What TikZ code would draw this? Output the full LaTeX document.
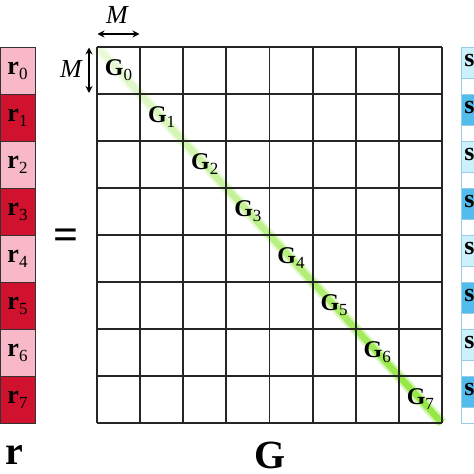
\documentclass[tikz,border=0pt]{standalone}
\usepackage{fontspec}
\setmainfont{Liberation Serif}
\usetikzlibrary{arrows.meta,calc}
\definecolor{pinkL}{RGB}{248,184,200}
\definecolor{redD}{RGB}{208,18,46}
\definecolor{blueL}{RGB}{204,240,252}
\definecolor{blueD}{RGB}{82,188,236}
\definecolor{sborder}{RGB}{150,205,228}
\definecolor{gline}{RGB}{150,232,70}
\newcommand\subtxt[1]{\raisebox{-5pt}{\fontsize{17}{17}\selectfont\mdseries #1}}
\begin{document}
\begin{tikzpicture}[x=1pt,y=-1pt,
  gridline/.style={line width=1.8pt,black!85},
  glabel/.style={font=\fontsize{24}{24}\selectfont\bfseries,inner sep=0pt},
  rcell/.style={draw=black!80,line width=1pt,minimum width=35pt,minimum height=47pt,inner sep=0pt,font=\fontsize{26}{26}\selectfont\bfseries},
  scell/.style={draw=sborder,line width=0.8pt,anchor=north west,minimum height=31pt,text width=24pt,inner xsep=3pt,inner ysep=0pt,align=left,font=\fontsize{26}{26}\selectfont\bfseries},
  dimarrow/.style={<->,>={Stealth[length=7pt,width=7pt]},line width=1.3pt},
  mlabel/.style={font=\fontsize{26}{26}\selectfont\itshape,inner sep=0pt},
  biglabel/.style={font=\fontsize{40}{40}\selectfont\bfseries,inner sep=0pt}]
\useasboundingbox (0,0) rectangle (474,474);
\clip (0,0) rectangle (474,474);
% r column
\foreach \i in {0,...,7}{
  \pgfmathsetmacro{\yc}{70.5+47*\i}
  \ifodd\i \def\cc{redD}\else\def\cc{pinkL}\fi
  \node[rcell,fill=\cc] (r\i) at (17.5,\yc) {r\subtxt{\i}};
}
% s column
\foreach \i in {0,...,7}{
  \pgfmathsetmacro{\yt}{47+47*\i}
  \ifodd\i \def\cc{blueD}\else\def\cc{blueL}\fi
  \draw[draw=sborder,line width=0.8pt,fill=white] (461,\yt+31) rectangle (490,\yt+47);
  \node[scell,fill=\cc] (s\i) at (461,\yt) {s\subtxt{\i}};
}
% green diagonal
\coordinate (gtl) at (97,47);
\coordinate (gbr) at (442,423);
\foreach \k in {0,...,23}{
  \pgfmathsetmacro{\pa}{\k/24}
  \pgfmathsetmacro{\pb}{(\k+1)/24}
  \pgfmathsetmacro{\mix}{min(100,22+85*\k/23)}
  \draw[line width=11pt,color=gline!\mix!white,opacity=0.4] ($(gtl)!\pa!(gbr)$) -- ($(gtl)!\pb!(gbr)$);
  \draw[line width=6.5pt,color=gline!\mix!white] ($(gtl)!\pa!(gbr)$) -- ($(gtl)!\pb!(gbr)$);
}
% grid
\foreach \j in {0,...,8}{
  \pgfmathsetmacro{\xx}{97+43.125*\j}
  \draw[gridline] (\xx,47) -- (\xx,423);
  \pgfmathsetmacro{\yy}{47+47*\j}
  \draw[gridline] (97,\yy) -- (442,\yy);
}
% G labels
\foreach \i in {0,...,7}{
  \pgfmathsetmacro{\xc}{118.5+43.125*\i}
  \pgfmathsetmacro{\yc}{70+47*\i}
  \node[glabel] (G\i) at (\xc,\yc) {G\subtxt{\i}};
}
% dimension arrows
\coordinate (mh1) at (97.5,34);
\coordinate (mh2) at (139.5,34);
\coordinate (mv1) at (89,47.5);
\coordinate (mv2) at (89,93);
\draw[dimarrow] (mh1) -- (mh2);
\draw[dimarrow] (mv1) -- (mv2);
\node[mlabel] (Mtop) at (117,15) {M};
\node[mlabel] (Mleft) at (71,69) {M};
% equals and labels
\node[font=\fontsize{44}{44}\selectfont\bfseries,inner sep=0pt] (eq) at (66,239) {=};
\node[biglabel] (rlab) at (14,455) {r};
\node[biglabel] (Glab) at (270,455) {G};
\end{tikzpicture}
\end{document}
